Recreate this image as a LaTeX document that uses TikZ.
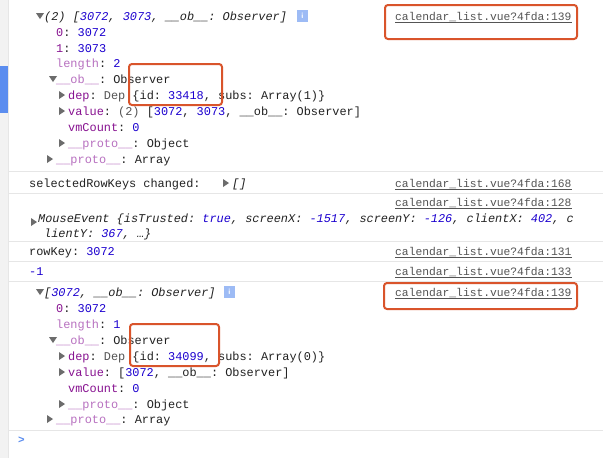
\documentclass[tikz,border=0pt]{standalone}
\usepackage{fontspec}
\setmonofont{Liberation Mono}
\begin{document}
\begin{tikzpicture}[x=1pt,y=-1pt,
  t/.style={anchor=base west,inner sep=0pt,font=\ttfamily\fontsize{11.9}{12}\selectfont,text=txt},
  lk/.style={t,text=lnk,font=\ttfamily\fontsize{11.3}{12}\selectfont},
  sep/.style={draw=sepc,line width=0.8pt},
  redbox/.style={draw=hl,line width=2pt,rounded corners=3pt},
  tri/.style={fill=gray!85!black}]
\definecolor{txt}{HTML}{222222}
\definecolor{key}{HTML}{881391}
\definecolor{fk}{HTML}{B871C0}
\definecolor{num}{HTML}{1C00CF}
\definecolor{lnk}{HTML}{545454}
\definecolor{sepc}{HTML}{E6E6E6}
\definecolor{hl}{HTML}{D9542B}
\definecolor{gut}{HTML}{F2F2F2}
\definecolor{bl}{HTML}{5B8DEF}
\useasboundingbox (0,0) rectangle (603,458);
\fill[white] (0,0) rectangle (603,458);
\fill[gut] (0,0) rectangle (8,458);
\fill[bl] (0,66) rectangle (8,113);
\draw[sepc] (8,0) -- (8,458);
\newcommand\rt[2]{\fill[tri] (#1,#2-4) -- (#1+6,#2) -- (#1,#2+4) -- cycle;}
\newcommand\dt[2]{\fill[tri] (#1-1,#2-3) -- (#1+7,#2-3) -- (#1+3,#2+3) -- cycle;}
\newcommand\info[2]{\fill[bl!60] (#1,#2-6) rectangle (#1+11,#2+6); \node[font=\sffamily\bfseries\fontsize{8}{8}\selectfont,text=white,inner sep=0pt] at (#1+5.5,#2) {i};}
% block 1
\dt{37}{16}
\node[t] (a1) at (44,20) {\itshape (2) [{\color{num}3072}, {\color{num}3073}, \_\_ob\_\_: Observer]};
\info{297}{16}
\node[lk] (l1) at (395,20) {\underline{calendar\_list.vue?4fda:139}};
\node[t] (a2) at (56,36) {{\color{key}0}: {\color{num}3072}};
\node[t] (a3) at (56,52) {{\color{key}1}: {\color{num}3073}};
\node[t] (a4) at (56,67) {{\color{fk}length}: {\color{num}2}};
\dt{50}{79}
\node[t] (a5) at (56,83) {{\color{fk}\_\_ob\_\_}: Observer};
\rt{59}{95}
\node[t] (a6) at (68,99) {{\color{key}dep}: {\color{lnk}Dep} \{id: {\color{num}33418}, subs: Array(1)\}};
\rt{59}{111}
\node[t] (a7) at (68,115) {{\color{key}value}: {\color{lnk}(2)} [{\color{num}3072}, {\color{num}3073}, \_\_ob\_\_: Observer]};
\node[t] (a8) at (68,131) {{\color{key}vmCount}: {\color{num}0}};
\rt{59}{143}
\node[t] (a9) at (68,147) {{\color{fk}\_\_proto\_\_}: Object};
\rt{47}{159}
\node[t] (a10) at (56,163) {{\color{fk}\_\_proto\_\_}: Array};
\draw[sep] (8,171) -- (603,171);
\node[t] (b1) at (29,187) {selectedRowKeys changed:};
\rt{223}{183}
\node[t] (b2) at (232,187) {\itshape []};
\node[lk] (l2) at (395,187) {\underline{calendar\_list.vue?4fda:168}};
\draw[sep] (8,193) -- (603,193);
\node[lk] (l3) at (395,206) {\underline{calendar\_list.vue?4fda:128}};
\rt{31}{222}
\node[t] (c1) at (38,222) {\itshape MouseEvent \{isTrusted: {\color{num}true}, screenX: {\color{num}-1517}, screenY: {\color{num}-126}, clientX: {\color{num}402}, c};
\node[t] (c2) at (44,237) {\itshape lientY: {\color{num}367}, …\}};
\draw[sep] (8,241) -- (603,241);
\node[t] (d1) at (29,255) {rowKey: {\color{num}3072}};
\node[lk] (l4) at (395,255) {\underline{calendar\_list.vue?4fda:131}};
\draw[sep] (8,261) -- (603,261);
\node[t,text=num] (e1) at (29,275) {-1};
\node[lk] (l5) at (395,275) {\underline{calendar\_list.vue?4fda:133}};
\draw[sep] (8,281) -- (603,281);
% block 2
\dt{37}{292}
\node[t] (f1) at (44,296) {\itshape [{\color{num}3072}, \_\_ob\_\_: Observer]};
\info{224}{292}
\node[lk] (l6) at (395,296) {\underline{calendar\_list.vue?4fda:139}};
\node[t] (f2) at (56,312) {{\color{key}0}: {\color{num}3072}};
\node[t] (f3) at (56,328) {{\color{fk}length}: {\color{num}1}};
\dt{50}{340}
\node[t] (f4) at (56,344) {{\color{fk}\_\_ob\_\_}: Observer};
\rt{59}{356}
\node[t] (f5) at (68,360) {{\color{key}dep}: {\color{lnk}Dep} \{id: {\color{num}34099}, subs: Array(0)\}};
\rt{59}{372}
\node[t] (f6) at (68,376) {{\color{key}value}: [{\color{num}3072}, \_\_ob\_\_: Observer]};
\node[t] (f7) at (68,392) {{\color{key}vmCount}: {\color{num}0}};
\rt{59}{404}
\node[t] (f8) at (68,408) {{\color{fk}\_\_proto\_\_}: Object};
\rt{47}{419}
\node[t] (f9) at (56,423) {{\color{fk}\_\_proto\_\_}: Array};
\draw[sep] (8,430) -- (603,430);
\node[t,text=bl,font=\ttfamily\bfseries\fontsize{11}{12}\selectfont] (g1) at (18,443) {>};
% highlight boxes
\draw[redbox] (385,5) rectangle (577,39);
\draw[redbox] (129,64) rectangle (222,105);
\draw[redbox] (384,283) rectangle (577,309);
\draw[redbox] (130,324) rectangle (219,366);
\end{tikzpicture}
\end{document}
